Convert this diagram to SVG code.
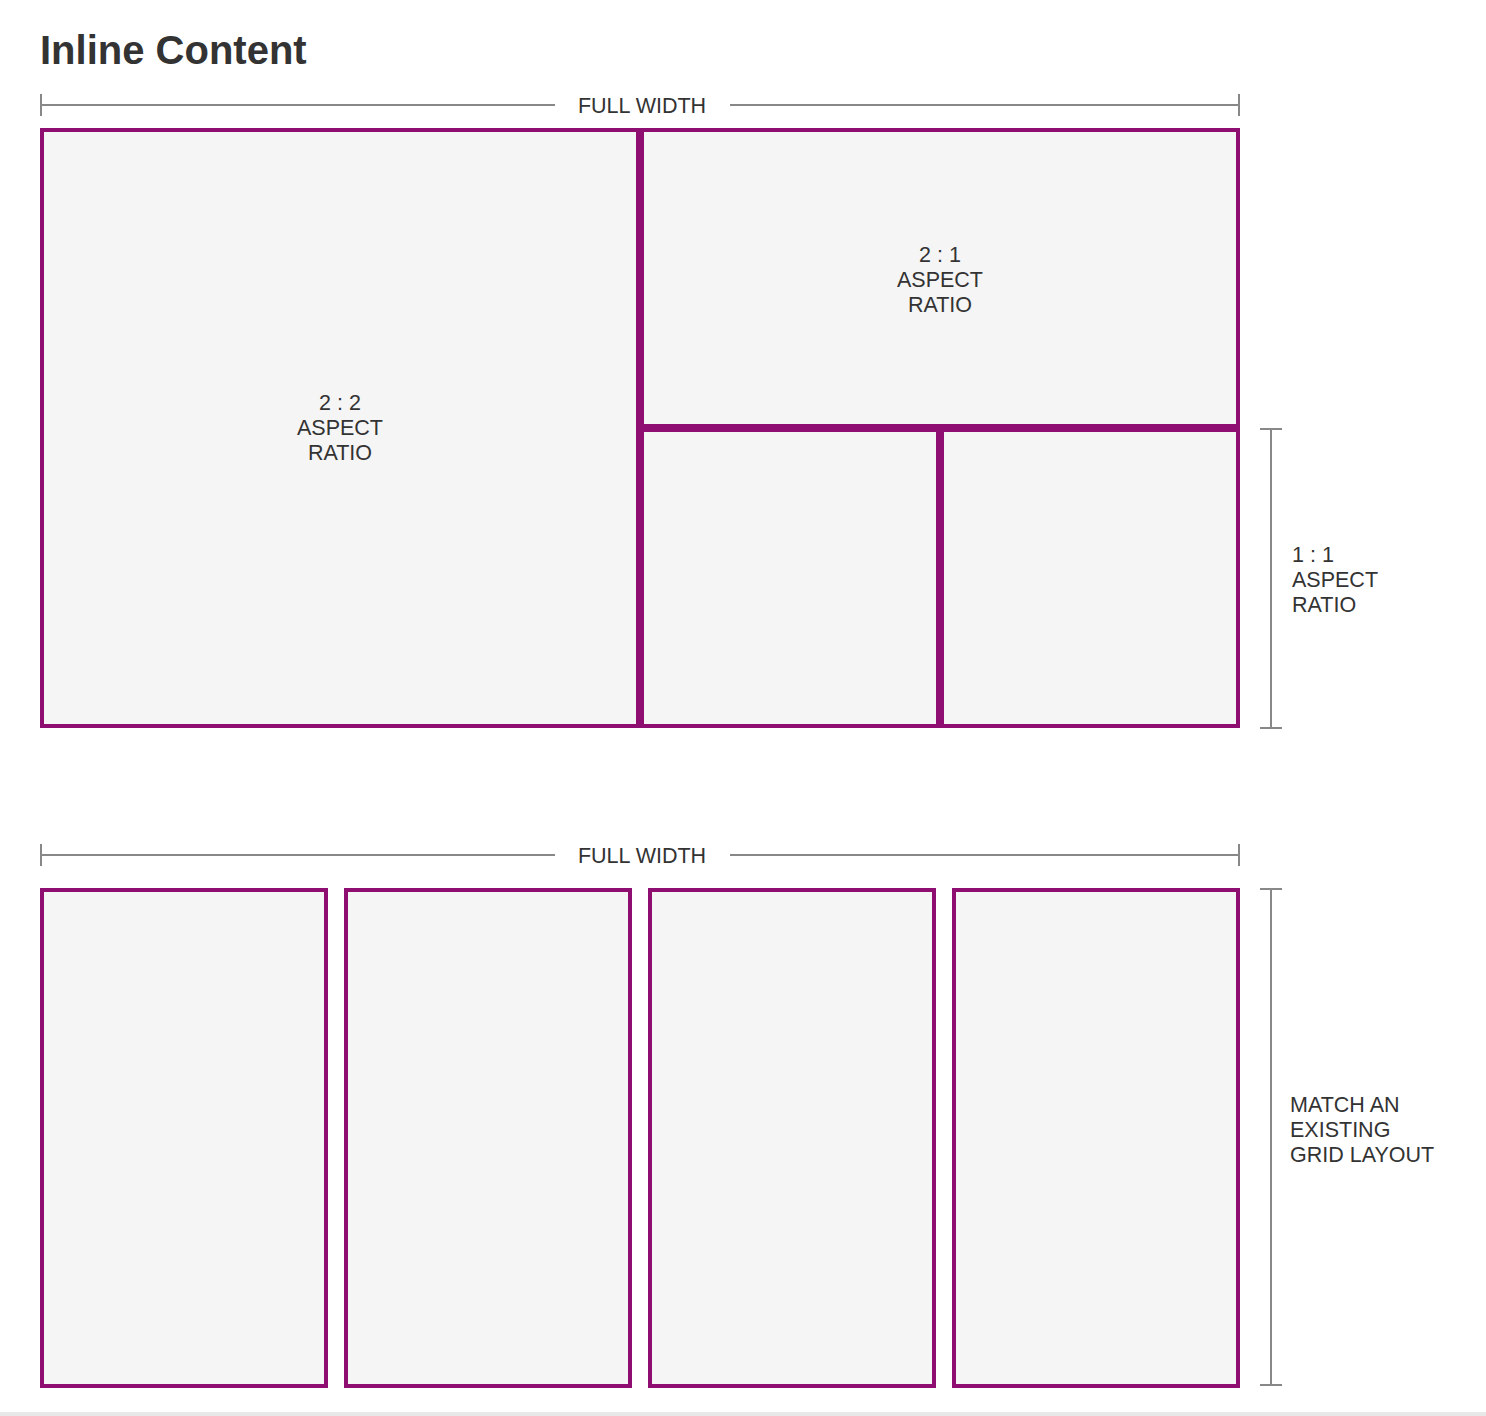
<svg xmlns="http://www.w3.org/2000/svg" width="1486" height="1416" viewBox="0 0 1486 1416">
  <style>
    .box { fill: #f5f5f5; stroke: #8e0f71; stroke-width: 4; }
    .dim { stroke: #888888; stroke-width: 2; fill: none; }
    .lbl { font-family: "Liberation Sans", Arial, sans-serif; font-size: 21.5px; fill: #333333; }
    .mid { text-anchor: middle; }
    .title { font-family: "Liberation Sans", Arial, sans-serif; font-size: 40px; font-weight: bold; fill: #333333; }
  </style>
  <rect x="0" y="0" width="1486" height="1416" fill="#ffffff"/>
  <text class="title" x="40" y="64">Inline Content</text>

  <g id="connectors">
    <!-- top full width -->
    <line class="dim" x1="41" y1="105" x2="555" y2="105"/>
    <line class="dim" x1="730" y1="105" x2="1239" y2="105"/>
    <line class="dim" x1="41" y1="94" x2="41" y2="116"/>
    <line class="dim" x1="1239" y1="94" x2="1239" y2="116"/>
    <!-- bottom full width -->
    <line class="dim" x1="41" y1="855" x2="555" y2="855"/>
    <line class="dim" x1="730" y1="855" x2="1239" y2="855"/>
    <line class="dim" x1="41" y1="844" x2="41" y2="866"/>
    <line class="dim" x1="1239" y1="844" x2="1239" y2="866"/>
    <!-- right 1:1 -->
    <line class="dim" x1="1271" y1="429" x2="1271" y2="728"/>
    <line class="dim" x1="1260" y1="429" x2="1282" y2="429"/>
    <line class="dim" x1="1260" y1="728" x2="1282" y2="728"/>
    <!-- right grid -->
    <line class="dim" x1="1271" y1="889" x2="1271" y2="1385"/>
    <line class="dim" x1="1260" y1="889" x2="1282" y2="889"/>
    <line class="dim" x1="1260" y1="1385" x2="1282" y2="1385"/>
  </g>

  <g id="label-full-width-top"><text class="lbl mid" x="642" y="113">FULL WIDTH</text></g>
  <g id="label-full-width-bottom"><text class="lbl mid" x="642" y="863">FULL WIDTH</text></g>

  <g id="box-2-2">
    <rect class="box" x="42" y="130" width="596" height="596"/>
    <text class="lbl mid" x="340" y="410">2 : 2</text>
    <text class="lbl mid" x="340" y="435">ASPECT</text>
    <text class="lbl mid" x="340" y="460">RATIO</text>
  </g>
  <g id="box-2-1">
    <rect class="box" x="642" y="130" width="596" height="296"/>
    <text class="lbl mid" x="940" y="262">2 : 1</text>
    <text class="lbl mid" x="940" y="287">ASPECT</text>
    <text class="lbl mid" x="940" y="312">RATIO</text>
  </g>
  <g id="box-1-1-a"><rect class="box" x="642" y="430" width="296" height="296"/></g>
  <g id="box-1-1-b"><rect class="box" x="942" y="430" width="296" height="296"/></g>

  <g id="label-1-1">
    <text class="lbl" x="1292" y="562">1 : 1</text>
    <text class="lbl" x="1292" y="587">ASPECT</text>
    <text class="lbl" x="1292" y="612">RATIO</text>
  </g>

  <g id="grid-1"><rect class="box" x="42" y="890" width="284" height="496"/></g>
  <g id="grid-2"><rect class="box" x="346" y="890" width="284" height="496"/></g>
  <g id="grid-3"><rect class="box" x="650" y="890" width="284" height="496"/></g>
  <g id="grid-4"><rect class="box" x="954" y="890" width="284" height="496"/></g>

  <g id="label-grid">
    <text class="lbl" x="1290" y="1112">MATCH AN</text>
    <text class="lbl" x="1290" y="1137">EXISTING</text>
    <text class="lbl" x="1290" y="1162">GRID LAYOUT</text>
  </g>

  <rect x="0" y="1412" width="1486" height="4" fill="#e8e8e8"/>
</svg>
